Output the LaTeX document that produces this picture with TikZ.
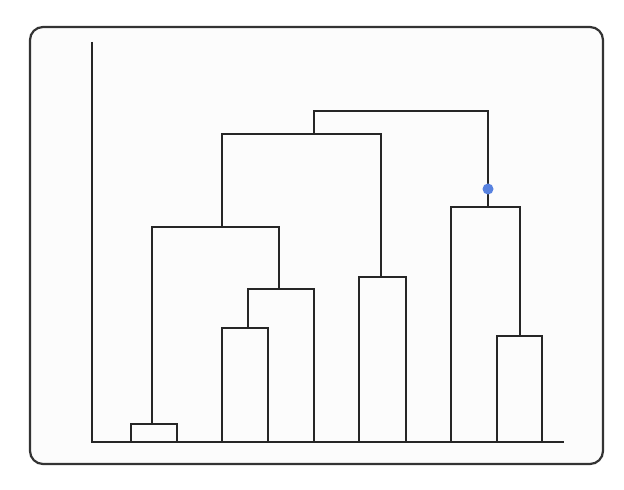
\documentclass[tikz,border=0pt]{standalone}
\begin{document}
\begin{tikzpicture}[x=1pt,y=1pt,
  link/.style={draw=black!85, line width=1.9pt},
  frame/.style={draw=black!80, line width=2.2pt, rounded corners=13pt, fill=black!1.2},
  axisline/.style={draw=black!85, line width=1.8pt},
  marker/.style={circle, fill=markblue, inner sep=0pt, minimum size=11pt}]
\definecolor{markblue}{RGB}{88,130,224}
\useasboundingbox (0,0) rectangle (624,490);
\draw[frame] (30,26) rectangle (603,463);
% leaves
\coordinate (l1) at (131,48);
\coordinate (l2) at (177,48);
\coordinate (l3) at (222,48);
\coordinate (l4) at (268,48);
\coordinate (l5) at (314,48);
\coordinate (l6) at (359,48);
\coordinate (l7) at (406,48);
\coordinate (l8) at (451,48);
\coordinate (l9) at (497,48);
\coordinate (l10) at (542,48);
% merges
\coordinate (m1) at (152,66);
\coordinate (m2) at (248,162);
\coordinate (m3) at (279,201);
\coordinate (m4) at (222,263);
\coordinate (m5) at (381,213);
\coordinate (m6) at (314,356);
\coordinate (m7) at (520,154);
\coordinate (m8) at (488,283);
\coordinate (m9) at (400,379);
% axes
\coordinate (ytop) at (92,448);
\coordinate (orig) at (92,48);
\coordinate (xend) at (564,48);
\draw[axisline] (ytop) -- (orig) -- (xend);
% links
\draw[link] (l1) |- (m1) -| (l2);
\draw[link] (l3) |- (m2) -| (l4);
\draw[link] (m2) |- (m3) -| (l5);
\draw[link] (m1) |- (m4) -| (m3);
\draw[link] (l6) |- (m5) -| (l7);
\draw[link] (m4) |- (m6) -| (m5);
\draw[link] (l9) |- (m7) -| (l10);
\draw[link] (l8) |- (m8) -| (m7);
\draw[link] (m6) |- (m9) -| (m8);
\node[marker] (dot) at (488,301) {};
\end{tikzpicture}
\end{document}
